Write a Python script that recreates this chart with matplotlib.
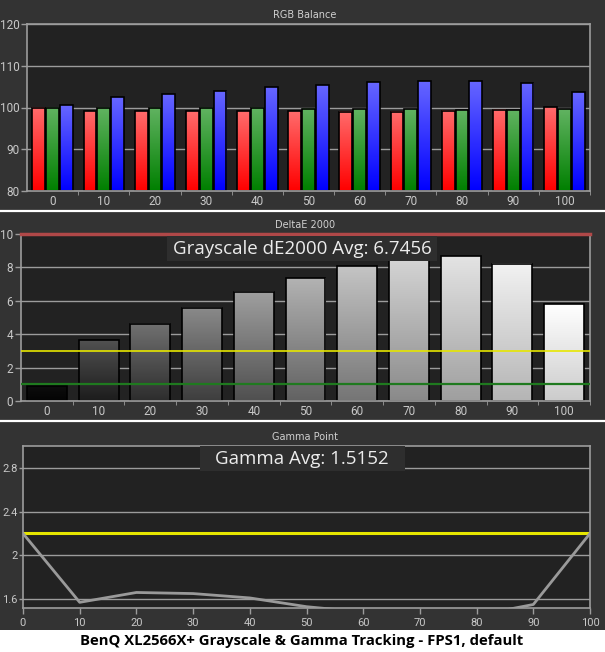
import numpy as np
import matplotlib
matplotlib.use("Agg")
import matplotlib.pyplot as plt
from matplotlib.patches import Rectangle

# ---------------- data ----------------
levels = [0, 10, 20, 30, 40, 50, 60, 70, 80, 90, 100]
red_vals = [100.0, 99.1, 99.1, 99.1, 99.1, 99.1, 99.0, 99.0, 99.2, 99.5, 100.1]
green_vals = [100.0, 100.0, 100.0, 100.0, 100.0, 99.7, 99.6, 99.6, 99.3, 99.3, 99.6]
blue_vals = [100.5, 102.4, 103.2, 103.9, 104.8, 105.3, 106.0, 106.3, 106.3, 105.8, 103.6]
de_vals = [0.87, 3.65, 4.62, 5.58, 6.53, 7.36, 8.08, 8.47, 8.68, 8.21, 5.80]
gamma_vals = [2.20, 1.57, 1.66, 1.65, 1.61, 1.53, 1.48, 1.46, 1.45, 1.55, 2.20]
gamma_target = 2.2
de_avg_text = "Grayscale dE2000 Avg: 6.7456"
gamma_avg_text = "Gamma Avg: 1.5152"
rgb_yticks = [80, 90, 100, 110, 120]
de_yticks = [0, 2, 4, 6, 8, 10]
gamma_yticks = [1.6, 2, 2.4, 2.8]
gamma_ytick_labels = ["1.6", "2", "2.4", "2.8"]
title = "BenQ XL2566X+ Grayscale & Gamma Tracking - FPS1, default"

# ---------------- style ----------------
W, H = 605, 652
BG = "#333333"
PLOT_BG = "#222222"
GRID = "#9c9c9c"
TICKC = "#c8c8c8"

fig = plt.figure(figsize=(W / 100, H / 100), dpi=100, facecolor=BG)


def add_ax(l, r, t, b):
    ax = fig.add_axes([l / W, 1 - b / H, (r - l) / W, (b - t) / H])
    ax.set_facecolor(PLOT_BG)
    for s in ax.spines.values():
        s.set_color(GRID)
        s.set_linewidth(1.2)
    ax.tick_params(colors=GRID, labelcolor=TICKC, labelsize=8.5, length=4, width=1, pad=1.5)
    ax.set_axisbelow(True)
    ax.grid(axis="y", color=GRID, lw=1, zorder=0.5)
    return ax


def style_labels(ax, size=8.5):
    for lab in ax.get_xticklabels() + ax.get_yticklabels():
        lab.set_family("Roboto")
        lab.set_fontsize(size)


def grad_bar(ax, x, w, base, h, c_top, c_bot, z=2):
    t = np.linspace(0, 1, 64)[:, None, None]
    ct = np.array(c_top)[None, None, :]
    cb = np.array(c_bot)[None, None, :]
    img = cb + (ct - cb) * t
    ax.imshow(img, extent=(x - w / 2, x + w / 2, base, h), origin="lower",
              aspect="auto", zorder=z, interpolation="bilinear")
    ax.bar(x, h - base, bottom=base, width=w, facecolor="none",
           edgecolor="black", lw=1.2, zorder=z + 0.1)


# ---------- panel 1: RGB balance ----------
ax1 = add_ax(27, 590, 24, 191)
bw = 2.5
off = 2.7
for i, x in enumerate(levels):
    grad_bar(ax1, x - off, bw, 80, red_vals[i], (1.0, 0.42, 0.42), (1.0, 0.0, 0.0))
    grad_bar(ax1, x, bw, 80, green_vals[i], (0.38, 0.70, 0.38), (0.0, 0.50, 0.0))
    grad_bar(ax1, x + off, bw, 80, blue_vals[i], (0.40, 0.40, 1.0), (0.0, 0.0, 1.0))
ax1.set_xlim(-5, 105)
ax1.set_ylim(80, 120)
ax1.set_yticks(rgb_yticks)
ax1.set_xticks(levels)
ax1.set_xticks([x + 5 for x in levels[:-1]] + [105], minor=True)
ax1.tick_params(axis="x", which="major", length=0, pad=3)
ax1.tick_params(axis="x", which="minor", length=3, color=GRID)
style_labels(ax1)
fig.text(305 / W, 1 - 15 / H, "RGB Balance", color="#d0d0d0", fontsize=7,
         ha="center", va="center")

# ---------- panel 2: DeltaE 2000 ----------
ax2 = add_ax(21, 590, 234, 401)
bw2 = 7.7
for i, x in enumerate(levels):
    g = x / 100
    top = 0.05 + 0.95 * g ** 0.55
    bot = top * (0.3 + 0.5 * g)
    grad_bar(ax2, x, bw2, 0, de_vals[i], (top,) * 3, (bot,) * 3)
ax2.axhline(3, color="#e6e600", lw=1.2, zorder=4)
ax2.axhline(1, color="#1f7a1f", lw=1.6, zorder=4)
ax2.axhline(10, color="#b04848", lw=2.5, zorder=4, clip_on=False)
ax2.set_xlim(-5, 105)
ax2.set_ylim(0, 10)
ax2.set_yticks(de_yticks)
ax2.set_xticks(levels)
ax2.set_xticks([x + 5 for x in levels[:-1]] + [105], minor=True)
ax2.tick_params(axis="x", which="major", length=0, pad=3)
ax2.tick_params(axis="x", which="minor", length=3, color=GRID)
style_labels(ax2)
fig.text(305 / W, 1 - 225 / H, "DeltaE 2000", color="#d0d0d0", fontsize=7,
         ha="center", va="center")
fig.patches.append(Rectangle((167 / W, 1 - 261 / H), 270 / W, 25 / H,
                             transform=fig.transFigure, facecolor="#2e2e2e",
                             edgecolor="none", zorder=5))
fig.text(302 / W, 1 - 248.5 / H, de_avg_text, color="#ececec", fontsize=13.5,
         family="Open Sans", ha="center", va="center", zorder=6)

# ---------- panel 3: Gamma point ----------
ax3 = add_ax(23, 590, 446, 608)
ax3.plot(levels, gamma_vals, color="#9a9a9a", lw=2, zorder=3)
ax3.axhline(gamma_target, color="#e6e600", lw=2.2, zorder=2)
ax3.set_xlim(0, 100)
ax3.set_ylim(1.518, 3.0)
ax3.set_yticks(gamma_yticks)
ax3.set_yticklabels(gamma_ytick_labels)
ax3.set_xticks(levels)
ax3.tick_params(axis="x", length=4, pad=3)
ax3.tick_params(axis="y", length=3, pad=1)
style_labels(ax3, 8)
fig.text(305 / W, 1 - 437 / H, "Gamma Point", color="#d0d0d0", fontsize=7,
         ha="center", va="center")
fig.patches.append(Rectangle((200 / W, 1 - 471 / H), 205 / W, 25 / H,
                             transform=fig.transFigure, facecolor="#2e2e2e",
                             edgecolor="none", zorder=5))
fig.text(302 / W, 1 - 459 / H, gamma_avg_text, color="#ececec", fontsize=13.5,
         family="Open Sans", ha="center", va="center", zorder=6)

# ---------- separators and bottom title ----------
for yy in (210.5, 421):
    fig.add_artist(plt.Line2D([0, 1], [1 - yy / H] * 2, color="white", lw=1.6,
                              transform=fig.transFigure))
fig.patches.append(Rectangle((0, 0), 1, 22 / H, transform=fig.transFigure,
                             facecolor="white", edgecolor="none", zorder=1))
fig.text(302 / W, 1 - 641 / H, title, color="black", fontsize=10.7,
         family="Open Sans", weight="bold", ha="center", va="center", zorder=2)

fig.savefig("out.png", dpi=100, facecolor=BG)
